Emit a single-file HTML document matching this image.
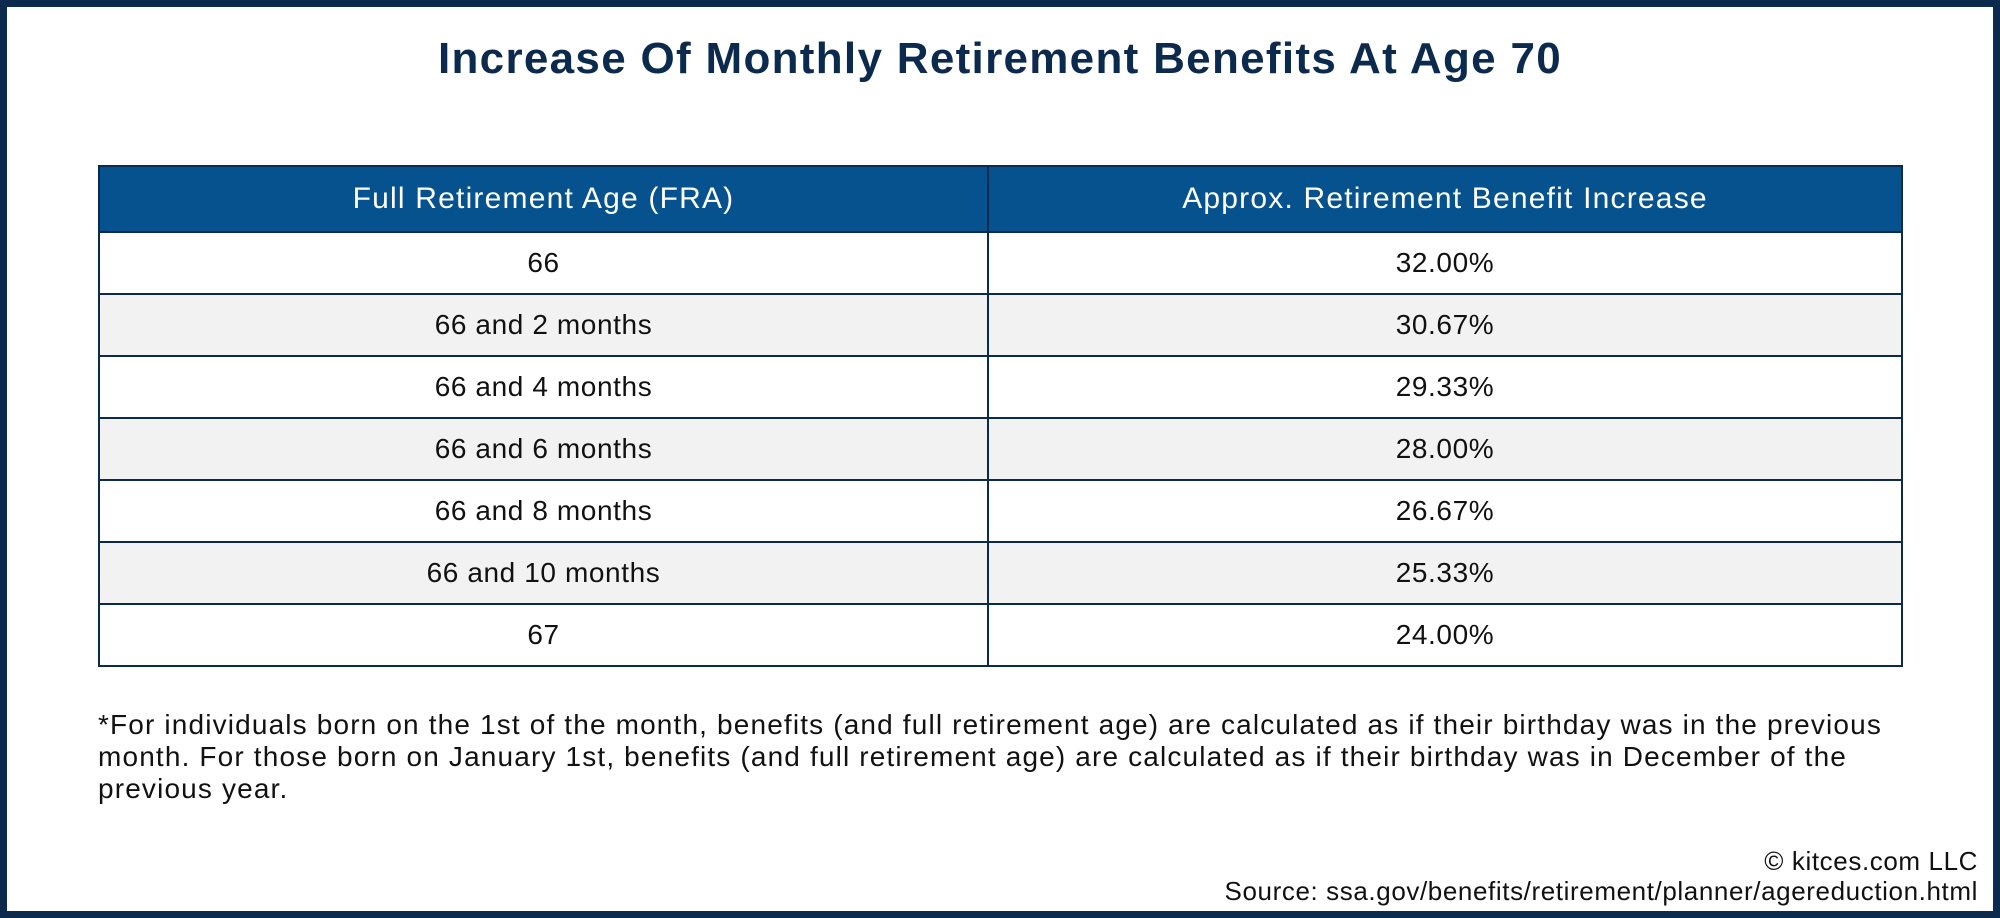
<!DOCTYPE html>
<html><head><style>
body{margin:0;width:2000px;height:918px;overflow:hidden;background:#fff;font-family:"Liberation Sans",sans-serif;}
.frame{position:absolute;left:0;top:0;width:2000px;height:918px;box-sizing:border-box;border:7px solid #0b2a4e;}
.title{position:absolute;left:0;width:2000px;top:34px;text-align:center;font-size:44px;letter-spacing:1.3px;font-weight:bold;color:#0b2a4e;}
table{position:absolute;left:98px;top:165px;width:1805px;border-collapse:collapse;}
td,th{border:2px solid #0b2a4e;text-align:center;font-size:28px;letter-spacing:0.6px;color:#111;height:60px;padding:0;}
th{background:#05528f;color:#fff;font-weight:normal;height:64px;font-size:30px;letter-spacing:1.2px;}
tr.g td{background:#f2f2f2;}
.note{position:absolute;left:98px;top:709px;width:1850px;font-size:28px;letter-spacing:1.15px;line-height:32px;color:#111;}
.src{position:absolute;right:22px;top:846px;text-align:right;font-size:26px;letter-spacing:0.6px;line-height:30px;color:#111;}
</style></head><body>
<div class="frame"></div>
<div class="title">Increase Of Monthly Retirement Benefits At Age 70</div>
<table>
<tr><th style="width:887px">Full Retirement Age (FRA)</th><th>Approx. Retirement Benefit Increase</th></tr>
<tr><td>66</td><td>32.00%</td></tr>
<tr class="g"><td>66 and 2 months</td><td>30.67%</td></tr>
<tr><td>66 and 4 months</td><td>29.33%</td></tr>
<tr class="g"><td>66 and 6 months</td><td>28.00%</td></tr>
<tr><td>66 and 8 months</td><td>26.67%</td></tr>
<tr class="g"><td>66 and 10 months</td><td>25.33%</td></tr>
<tr><td>67</td><td>24.00%</td></tr>
</table>
<div class="note">*For individuals born on the 1st of the month, benefits (and full retirement age) are calculated as if their birthday was in the previous<br>month. For those born on January 1st, benefits (and full retirement age) are calculated as if their birthday was in December of the<br>previous year.</div>
<div class="src">© kitces.com LLC<br>Source: ssa.gov/benefits/retirement/planner/agereduction.html</div>
</body></html>
